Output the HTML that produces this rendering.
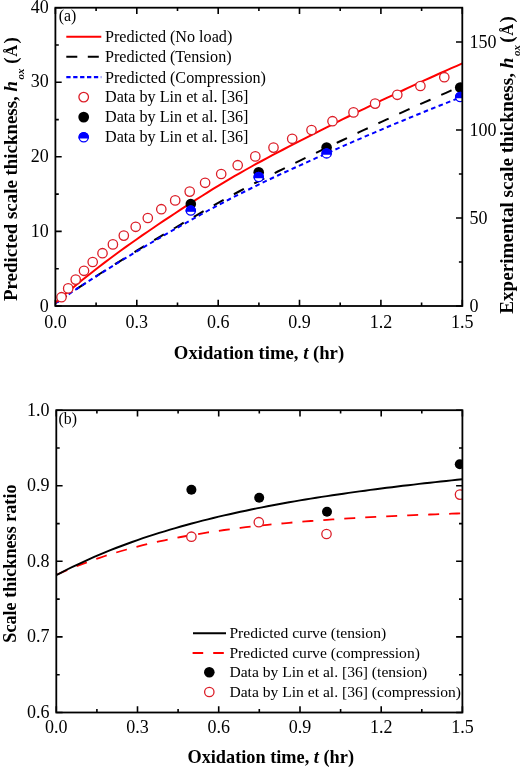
<!DOCTYPE html>
<html lang="en"><head><meta charset="utf-8"><title>Oxidation scale thickness</title>
<style>html,body{margin:0;padding:0;background:#fff}svg{display:block}text{font-family:'Liberation Serif','DejaVu Serif',serif;fill:#000}.tk{font-size:18px}.lg{font-size:16.15px}.lgb{font-size:15.6px}.ti{font-size:18.7px;font-weight:bold}.fr{fill:none;stroke:#000;stroke-width:1.8}.tick{stroke:#000;stroke-width:1.6;fill:none}</style></head><body>
<svg width="520" height="767" viewBox="0 0 520 767">
<rect width="520" height="767" fill="#fff"/>
<defs><clipPath id="ca"><rect x="55.4" y="7.7" width="406.90000000000003" height="298.3"/></clipPath><clipPath id="cb"><rect x="56.3" y="410.2" width="406.09999999999997" height="302.3"/></clipPath></defs>
<g id="panel-a">
<path class="tick" d="M55.4,306.0v-6.3M55.4,7.7v6.3M96.1,306.0v-3.4M96.1,7.7v3.4M136.8,306.0v-6.3M136.8,7.7v6.3M177.5,306.0v-3.4M177.5,7.7v3.4M218.2,306.0v-6.3M218.2,7.7v6.3M258.9,306.0v-3.4M258.9,7.7v3.4M299.5,306.0v-6.3M299.5,7.7v6.3M340.2,306.0v-3.4M340.2,7.7v3.4M380.9,306.0v-6.3M380.9,7.7v6.3M421.6,306.0v-3.4M421.6,7.7v3.4M462.3,306.0v-6.3M462.3,7.7v6.3M55.4,306.0h6.3M55.4,268.7h3.4M55.4,231.4h6.3M55.4,194.1h3.4M55.4,156.8h6.3M55.4,119.6h3.4M55.4,82.3h6.3M55.4,45.0h3.4M55.4,7.7h6.3M462.3,306.0h-6.3M462.3,262.0h-3.4M462.3,218.0h-6.3M462.3,174.0h-3.4M462.3,130.0h-6.3M462.3,86.0h-3.4M462.3,42.0h-6.3"/>
<g clip-path="url(#ca)">
<path d="M55.4,303.4 L60.8,299.7 L66.3,296.0 L71.7,292.3 L77.1,288.7 L82.5,285.1 L88.0,281.5 L93.4,278.0 L98.8,274.5 L104.2,271.0 L109.7,267.6 L115.1,264.2 L120.5,260.8 L125.9,257.4 L131.4,254.1 L136.8,250.7 L142.2,247.4 L147.6,244.2 L153.1,240.9 L158.5,237.6 L163.9,234.4 L169.3,231.2 L174.8,228.0 L180.2,224.8 L185.6,221.6 L191.0,218.4 L196.5,215.3 L201.9,212.2 L207.3,209.1 L212.7,206.0 L218.2,202.9 L223.6,199.9 L229.0,196.9 L234.4,194.0 L239.9,191.0 L245.3,188.2 L250.7,185.3 L256.1,182.5 L261.6,179.7 L267.0,177.0 L272.4,174.2 L277.8,171.5 L283.3,168.8 L288.7,166.2 L294.1,163.5 L299.5,160.9 L305.0,158.2 L310.4,155.6 L315.8,153.0 L321.2,150.4 L326.7,147.7 L332.1,145.1 L337.5,142.5 L342.9,140.0 L348.4,137.4 L353.8,134.8 L359.2,132.2 L364.6,129.7 L370.1,127.2 L375.5,124.6 L380.9,122.1 L386.3,119.6 L391.8,117.1 L397.2,114.6 L402.6,112.1 L408.0,109.7 L413.5,107.2 L418.9,104.8 L424.3,102.4 L429.7,100.0 L435.2,97.5 L440.6,95.1 L446.0,92.8 L451.4,90.4 L456.9,88.0 L462.3,85.7" fill="none" stroke="#000" stroke-width="2" stroke-dasharray="11.3 11.7" stroke-dashoffset="20.7"/>
<path d="M55.4,303.4 L60.8,299.7 L66.3,296.0 L71.7,292.3 L77.1,288.7 L82.5,285.2 L88.0,281.6 L93.4,278.1 L98.8,274.7 L104.2,271.3 L109.7,267.9 L115.1,264.5 L120.5,261.2 L125.9,257.9 L131.4,254.6 L136.8,251.3 L142.2,248.1 L147.6,244.9 L153.1,241.7 L158.5,238.6 L163.9,235.4 L169.3,232.3 L174.8,229.2 L180.2,226.1 L185.6,223.1 L191.0,220.0 L196.5,217.0 L201.9,214.0 L207.3,211.0 L212.7,208.1 L218.2,205.2 L223.6,202.3 L229.0,199.5 L234.4,196.6 L239.9,193.9 L245.3,191.2 L250.7,188.5 L256.1,185.8 L261.6,183.2 L267.0,180.6 L272.4,178.0 L277.8,175.5 L283.3,173.0 L288.7,170.5 L294.1,168.0 L299.5,165.6 L305.0,163.1 L310.4,160.7 L315.8,158.2 L321.2,155.8 L326.7,153.4 L332.1,151.0 L337.5,148.6 L342.9,146.2 L348.4,143.8 L353.8,141.4 L359.2,139.1 L364.6,136.7 L370.1,134.4 L375.5,132.1 L380.9,129.8 L386.3,127.5 L391.8,125.2 L397.2,122.9 L402.6,120.7 L408.0,118.4 L413.5,116.2 L418.9,114.0 L424.3,111.8 L429.7,109.6 L435.2,107.4 L440.6,105.2 L446.0,103.1 L451.4,100.9 L456.9,98.8 L462.3,96.7" fill="none" stroke="#0000ff" stroke-width="2" stroke-dasharray="4.6 3.4"/>
<path d="M55.4,302.7 L60.8,297.9 L66.3,293.3 L71.7,288.7 L77.1,284.2 L82.5,279.8 L88.0,275.5 L93.4,271.2 L98.8,267.0 L104.2,262.9 L109.7,258.8 L115.1,254.8 L120.5,250.8 L125.9,246.9 L131.4,243.0 L136.8,239.2 L142.2,235.4 L147.6,231.7 L153.1,228.0 L158.5,224.3 L163.9,220.7 L169.3,217.1 L174.8,213.5 L180.2,209.9 L185.6,206.4 L191.0,202.9 L196.5,199.4 L201.9,196.0 L207.3,192.6 L212.7,189.2 L218.2,185.9 L223.6,182.6 L229.0,179.4 L234.4,176.2 L239.9,173.1 L245.3,170.0 L250.7,167.0 L256.1,163.9 L261.6,161.0 L267.0,158.1 L272.4,155.2 L277.8,152.3 L283.3,149.5 L288.7,146.7 L294.1,143.9 L299.5,141.1 L305.0,138.3 L310.4,135.6 L315.8,132.8 L321.2,130.1 L326.7,127.3 L332.1,124.6 L337.5,121.9 L342.9,119.2 L348.4,116.5 L353.8,113.9 L359.2,111.2 L364.6,108.6 L370.1,105.9 L375.5,103.3 L380.9,100.7 L386.3,98.1 L391.8,95.6 L397.2,93.0 L402.6,90.5 L408.0,87.9 L413.5,85.4 L418.9,82.9 L424.3,80.4 L429.7,78.0 L435.2,75.5 L440.6,73.0 L446.0,70.6 L451.4,68.2 L456.9,65.8 L462.3,63.4" fill="none" stroke="#ff0000" stroke-width="2"/>
<circle cx="61.5" cy="297.2" r="4.7" fill="#fff" stroke="#dc1e28" stroke-width="1.3"/>
<circle cx="68.2" cy="288.4" r="4.7" fill="#fff" stroke="#dc1e28" stroke-width="1.3"/>
<circle cx="75.7" cy="279.6" r="4.7" fill="#fff" stroke="#dc1e28" stroke-width="1.3"/>
<circle cx="84.0" cy="270.8" r="4.7" fill="#fff" stroke="#dc1e28" stroke-width="1.3"/>
<circle cx="92.7" cy="262.0" r="4.7" fill="#fff" stroke="#dc1e28" stroke-width="1.3"/>
<circle cx="102.5" cy="253.2" r="4.7" fill="#fff" stroke="#dc1e28" stroke-width="1.3"/>
<circle cx="112.9" cy="244.4" r="4.7" fill="#fff" stroke="#dc1e28" stroke-width="1.3"/>
<circle cx="123.8" cy="235.6" r="4.7" fill="#fff" stroke="#dc1e28" stroke-width="1.3"/>
<circle cx="135.7" cy="226.8" r="4.7" fill="#fff" stroke="#dc1e28" stroke-width="1.3"/>
<circle cx="147.8" cy="218.0" r="4.7" fill="#fff" stroke="#dc1e28" stroke-width="1.3"/>
<circle cx="161.3" cy="209.2" r="4.7" fill="#fff" stroke="#dc1e28" stroke-width="1.3"/>
<circle cx="175.2" cy="200.4" r="4.7" fill="#fff" stroke="#dc1e28" stroke-width="1.3"/>
<circle cx="189.7" cy="191.6" r="4.7" fill="#fff" stroke="#dc1e28" stroke-width="1.3"/>
<circle cx="205.1" cy="182.8" r="4.7" fill="#fff" stroke="#dc1e28" stroke-width="1.3"/>
<circle cx="221.2" cy="174.0" r="4.7" fill="#fff" stroke="#dc1e28" stroke-width="1.3"/>
<circle cx="237.7" cy="165.2" r="4.7" fill="#fff" stroke="#dc1e28" stroke-width="1.3"/>
<circle cx="255.3" cy="156.4" r="4.7" fill="#fff" stroke="#dc1e28" stroke-width="1.3"/>
<circle cx="273.5" cy="147.6" r="4.7" fill="#fff" stroke="#dc1e28" stroke-width="1.3"/>
<circle cx="292.2" cy="138.8" r="4.7" fill="#fff" stroke="#dc1e28" stroke-width="1.3"/>
<circle cx="311.5" cy="130.0" r="4.7" fill="#fff" stroke="#dc1e28" stroke-width="1.3"/>
<circle cx="332.5" cy="121.2" r="4.7" fill="#fff" stroke="#dc1e28" stroke-width="1.3"/>
<circle cx="353.5" cy="112.4" r="4.7" fill="#fff" stroke="#dc1e28" stroke-width="1.3"/>
<circle cx="375.1" cy="103.6" r="4.7" fill="#fff" stroke="#dc1e28" stroke-width="1.3"/>
<circle cx="397.3" cy="94.8" r="4.7" fill="#fff" stroke="#dc1e28" stroke-width="1.3"/>
<circle cx="420.4" cy="86.0" r="4.7" fill="#fff" stroke="#dc1e28" stroke-width="1.3"/>
<circle cx="444.3" cy="77.2" r="4.7" fill="#fff" stroke="#dc1e28" stroke-width="1.3"/>
<circle cx="190.8" cy="204.0" r="5.3" fill="#000"/>
<circle cx="258.7" cy="172.3" r="5.3" fill="#000"/>
<circle cx="326.6" cy="147.6" r="5.3" fill="#000"/>
<circle cx="460.2" cy="87.5" r="5.3" fill="#000"/>
<circle cx="190.8" cy="210.6" r="4.6" fill="#fff" stroke="#0000ff" stroke-width="1.3"/><path d="M186.20000000000002,210.6a4.6,4.6 0 0 1 9.2,0v0.6h-9.2z" fill="#0000ff" stroke="#0000ff" stroke-width="1.3"/>
<circle cx="258.7" cy="177.0" r="4.6" fill="#fff" stroke="#0000ff" stroke-width="1.3"/><path d="M254.1,177.0a4.6,4.6 0 0 1 9.2,0v0.6h-9.2z" fill="#0000ff" stroke="#0000ff" stroke-width="1.3"/>
<circle cx="326.6" cy="153.4" r="4.6" fill="#fff" stroke="#0000ff" stroke-width="1.3"/><path d="M322.0,153.4a4.6,4.6 0 0 1 9.2,0v0.6h-9.2z" fill="#0000ff" stroke="#0000ff" stroke-width="1.3"/>
<circle cx="460.2" cy="97.0" r="4.6" fill="#fff" stroke="#0000ff" stroke-width="1.3"/><path d="M455.59999999999997,97.0a4.6,4.6 0 0 1 9.2,0v0.6h-9.2z" fill="#0000ff" stroke="#0000ff" stroke-width="1.3"/>
</g>
<rect class="fr" x="55.4" y="7.7" width="406.90000000000003" height="298.3"/>
<text class="tk" x="55.4" y="327.8" text-anchor="middle">0.0</text>
<text class="tk" x="136.8" y="327.8" text-anchor="middle">0.3</text>
<text class="tk" x="218.2" y="327.8" text-anchor="middle">0.6</text>
<text class="tk" x="299.5" y="327.8" text-anchor="middle">0.9</text>
<text class="tk" x="380.9" y="327.8" text-anchor="middle">1.2</text>
<text class="tk" x="462.3" y="327.8" text-anchor="middle">1.5</text>
<text class="tk" x="48.7" y="311.7" text-anchor="end">0</text>
<text class="tk" x="48.7" y="236.9" text-anchor="end">10</text>
<text class="tk" x="48.7" y="162.1" text-anchor="end">20</text>
<text class="tk" x="48.7" y="87.4" text-anchor="end">30</text>
<text class="tk" x="48.7" y="12.6" text-anchor="end">40</text>
<text class="tk" x="469.6" y="311.6">0</text>
<text class="tk" x="469.6" y="223.6">50</text>
<text class="tk" x="469.6" y="135.6">100</text>
<text class="tk" x="469.6" y="47.6">150</text>
<text class="ti" x="259.0" y="358.8" text-anchor="middle">Oxidation time, <tspan font-style="italic">t</tspan> (hr)</text>
<text class="ti" style="font-size:18.9px" transform="translate(16.9,301.0) rotate(-90)">Predicted scale thickness, <tspan font-style="italic">h</tspan><tspan font-style="italic" font-size="11px" dx="1.5" dy="7">ox</tspan><tspan dy="-7"> (</tspan><tspan font-size="16.6px" dx="0.6">Å</tspan><tspan dx="1.3">)</tspan></text>
<text class="ti" style="font-size:19.15px" transform="translate(512.8,313.8) rotate(-90)">Experimental scale thickness, <tspan font-style="italic">h</tspan><tspan font-style="italic" font-size="11px" dx="1.5" dy="7">ox</tspan><tspan dx="-2.5" dy="-7"> (</tspan><tspan font-size="16.6px" dx="0.6">Å</tspan><tspan dx="1.3">)</tspan></text>
<text x="58.8" y="20.7" style="font-size:15.8px">(a)</text>
<path d="M66.3,36.7H101.3" stroke="#ff0000" stroke-width="2" fill="none"/>
<path d="M66.3,56.7H101.3" stroke="#000" stroke-width="2" stroke-dasharray="11 10.5" fill="none"/>
<path d="M66.3,77.2H101.3" stroke="#0000ff" stroke-width="2.2" stroke-dasharray="4.3 2.6" fill="none"/>
<circle cx="83.7" cy="97.1" r="4.8" fill="none" stroke="#dc1e28" stroke-width="1.3"/>
<circle cx="83.7" cy="117.1" r="5.4" fill="#000"/>
<circle cx="83.7" cy="137.3" r="4.6" fill="#fff" stroke="#0000ff" stroke-width="1.3"/><path d="M79.10000000000001,137.3a4.6,4.6 0 0 1 9.2,0v0.6h-9.2z" fill="#0000ff" stroke="#0000ff" stroke-width="1.3"/>
<text class="lg" x="105.0" y="42.1">Predicted (No load)</text>
<text class="lg" x="105.0" y="62.1">Predicted (Tension)</text>
<text class="lg" x="105.0" y="82.6">Predicted (Compression)</text>
<text class="lg" x="105.0" y="102.2">Data by Lin et al. [36]</text>
<text class="lg" x="105.0" y="122.2">Data by Lin et al. [36]</text>
<text class="lg" x="105.0" y="142.4">Data by Lin et al. [36]</text>
</g>
<g id="panel-b">
<path class="tick" d="M56.3,712.5v-6.3M56.3,410.2v6.3M96.9,712.5v-3.4M96.9,410.2v3.4M137.5,712.5v-6.3M137.5,410.2v6.3M178.1,712.5v-3.4M178.1,410.2v3.4M218.7,712.5v-6.3M218.7,410.2v6.3M259.3,712.5v-3.4M259.3,410.2v3.4M300.0,712.5v-6.3M300.0,410.2v6.3M340.6,712.5v-3.4M340.6,410.2v3.4M381.2,712.5v-6.3M381.2,410.2v6.3M421.8,712.5v-3.4M421.8,410.2v3.4M462.4,712.5v-6.3M462.4,410.2v6.3M56.3,712.5h6.3M462.4,712.5h-6.3M56.3,674.7h3.4M462.4,674.7h-3.4M56.3,636.9h6.3M462.4,636.9h-6.3M56.3,599.1h3.4M462.4,599.1h-3.4M56.3,561.3h6.3M462.4,561.3h-6.3M56.3,523.6h3.4M462.4,523.6h-3.4M56.3,485.8h6.3M462.4,485.8h-6.3M56.3,448.0h3.4M462.4,448.0h-3.4M56.3,410.2h6.3M462.4,410.2h-6.3"/>
<g clip-path="url(#cb)">
<path d="M56.3,575.0 L61.7,572.5 L67.1,570.2 L72.5,567.9 L78.0,565.7 L83.4,563.6 L88.8,561.6 L94.2,559.6 L99.6,557.8 L105.0,556.0 L110.4,554.3 L115.9,552.6 L121.3,551.0 L126.7,549.5 L132.1,548.0 L137.5,546.6 L142.9,545.2 L148.3,543.9 L153.8,542.6 L159.2,541.4 L164.6,540.3 L170.0,539.1 L175.4,538.1 L180.8,537.0 L186.3,536.0 L191.7,535.1 L197.1,534.2 L202.5,533.3 L207.9,532.4 L213.3,531.6 L218.7,530.8 L224.2,530.0 L229.6,529.3 L235.0,528.6 L240.4,527.9 L245.8,527.2 L251.2,526.6 L256.6,526.0 L262.1,525.4 L267.5,524.8 L272.9,524.3 L278.3,523.8 L283.7,523.3 L289.1,522.8 L294.5,522.3 L300.0,521.8 L305.4,521.4 L310.8,521.0 L316.2,520.6 L321.6,520.2 L327.0,519.8 L332.4,519.4 L337.9,519.1 L343.3,518.7 L348.7,518.4 L354.1,518.1 L359.5,517.7 L364.9,517.4 L370.4,517.1 L375.8,516.9 L381.2,516.6 L386.6,516.3 L392.0,516.1 L397.4,515.8 L402.8,515.6 L408.3,515.4 L413.7,515.1 L419.1,514.9 L424.5,514.7 L429.9,514.5 L435.3,514.3 L440.7,514.1 L446.2,513.9 L451.6,513.7 L457.0,513.5 L462.4,513.4" fill="none" stroke="#ff0000" stroke-width="1.8" stroke-dasharray="11 10" stroke-dashoffset="19.9"/>
<path d="M56.3,575.1 L61.7,572.3 L67.1,569.5 L72.5,566.9 L78.0,564.3 L83.4,561.8 L88.8,559.3 L94.2,556.9 L99.6,554.6 L105.0,552.4 L110.4,550.2 L115.9,548.0 L121.3,546.0 L126.7,544.0 L132.1,542.0 L137.5,540.1 L142.9,538.2 L148.3,536.4 L153.8,534.7 L159.2,532.9 L164.6,531.3 L170.0,529.6 L175.4,528.1 L180.8,526.5 L186.3,525.0 L191.7,523.5 L197.1,522.1 L202.5,520.7 L207.9,519.3 L213.3,518.0 L218.7,516.7 L224.2,515.4 L229.6,514.2 L235.0,513.0 L240.4,511.8 L245.8,510.7 L251.2,509.5 L256.6,508.4 L262.1,507.4 L267.5,506.3 L272.9,505.3 L278.3,504.3 L283.7,503.3 L289.1,502.3 L294.5,501.4 L300.0,500.4 L305.4,499.5 L310.8,498.6 L316.2,497.8 L321.6,496.9 L327.0,496.1 L332.4,495.3 L337.9,494.5 L343.3,493.7 L348.7,492.9 L354.1,492.1 L359.5,491.4 L364.9,490.7 L370.4,489.9 L375.8,489.2 L381.2,488.5 L386.6,487.8 L392.0,487.2 L397.4,486.5 L402.8,485.8 L408.3,485.2 L413.7,484.6 L419.1,483.9 L424.5,483.3 L429.9,482.7 L435.3,482.1 L440.7,481.5 L446.2,481.0 L451.6,480.4 L457.0,479.8 L462.4,479.3" fill="none" stroke="#000" stroke-width="1.9"/>
<circle cx="191.4" cy="536.7" r="4.7" fill="#fff" stroke="#dc1e28" stroke-width="1.3"/>
<circle cx="258.8" cy="522.2" r="4.7" fill="#fff" stroke="#dc1e28" stroke-width="1.3"/>
<circle cx="326.5" cy="534.0" r="4.7" fill="#fff" stroke="#dc1e28" stroke-width="1.3"/>
<circle cx="460.0" cy="494.6" r="4.7" fill="#fff" stroke="#dc1e28" stroke-width="1.3"/>
<circle cx="191.4" cy="489.8" r="5" fill="#000"/>
<circle cx="259.2" cy="497.7" r="5" fill="#000"/>
<circle cx="327.0" cy="511.8" r="5" fill="#000"/>
<circle cx="459.8" cy="464.2" r="5" fill="#000"/>
</g>
<rect class="fr" x="56.3" y="410.2" width="406.1" height="302.3"/>
<text class="tk" x="56.3" y="733" text-anchor="middle">0.0</text>
<text class="tk" x="137.5" y="733" text-anchor="middle">0.3</text>
<text class="tk" x="218.7" y="733" text-anchor="middle">0.6</text>
<text class="tk" x="300.0" y="733" text-anchor="middle">0.9</text>
<text class="tk" x="381.2" y="733" text-anchor="middle">1.2</text>
<text class="tk" x="462.4" y="733" text-anchor="middle">1.5</text>
<text class="tk" x="49.6" y="717.9" text-anchor="end">0.6</text>
<text class="tk" x="49.6" y="642.3" text-anchor="end">0.7</text>
<text class="tk" x="49.6" y="566.7" text-anchor="end">0.8</text>
<text class="tk" x="49.6" y="491.2" text-anchor="end">0.9</text>
<text class="tk" x="49.6" y="415.6" text-anchor="end">1.0</text>
<text class="ti" style="font-size:18.3px" x="270.7" y="763.2" text-anchor="middle">Oxidation time, <tspan font-style="italic">t</tspan> (hr)</text>
<text class="ti" style="font-size:18.15px" transform="translate(16.1,642.7) rotate(-90)">Scale thickness ratio</text>
<text x="58.6" y="424.4" style="font-size:15.8px">(b)</text>
<path d="M193,633.3H226" stroke="#000" stroke-width="1.9" fill="none"/>
<path d="M192.6,653.0H226" stroke="#ff0000" stroke-width="2" stroke-dasharray="10.6 10" fill="none"/>
<circle cx="209.3" cy="672.3" r="5.3" fill="#000"/>
<circle cx="209.3" cy="692.0" r="4.7" fill="none" stroke="#dc1e28" stroke-width="1.3"/>
<text class="lgb" x="229.4" y="638.1">Predicted curve (tension)</text>
<text class="lgb" x="229.4" y="657.8">Predicted curve (compression)</text>
<text class="lgb" x="229.4" y="677.1">Data by Lin et al. [36] (tension)</text>
<text class="lgb" x="229.4" y="696.8">Data by Lin et al. [36] (compression)</text>
</g>
</svg></body></html>
